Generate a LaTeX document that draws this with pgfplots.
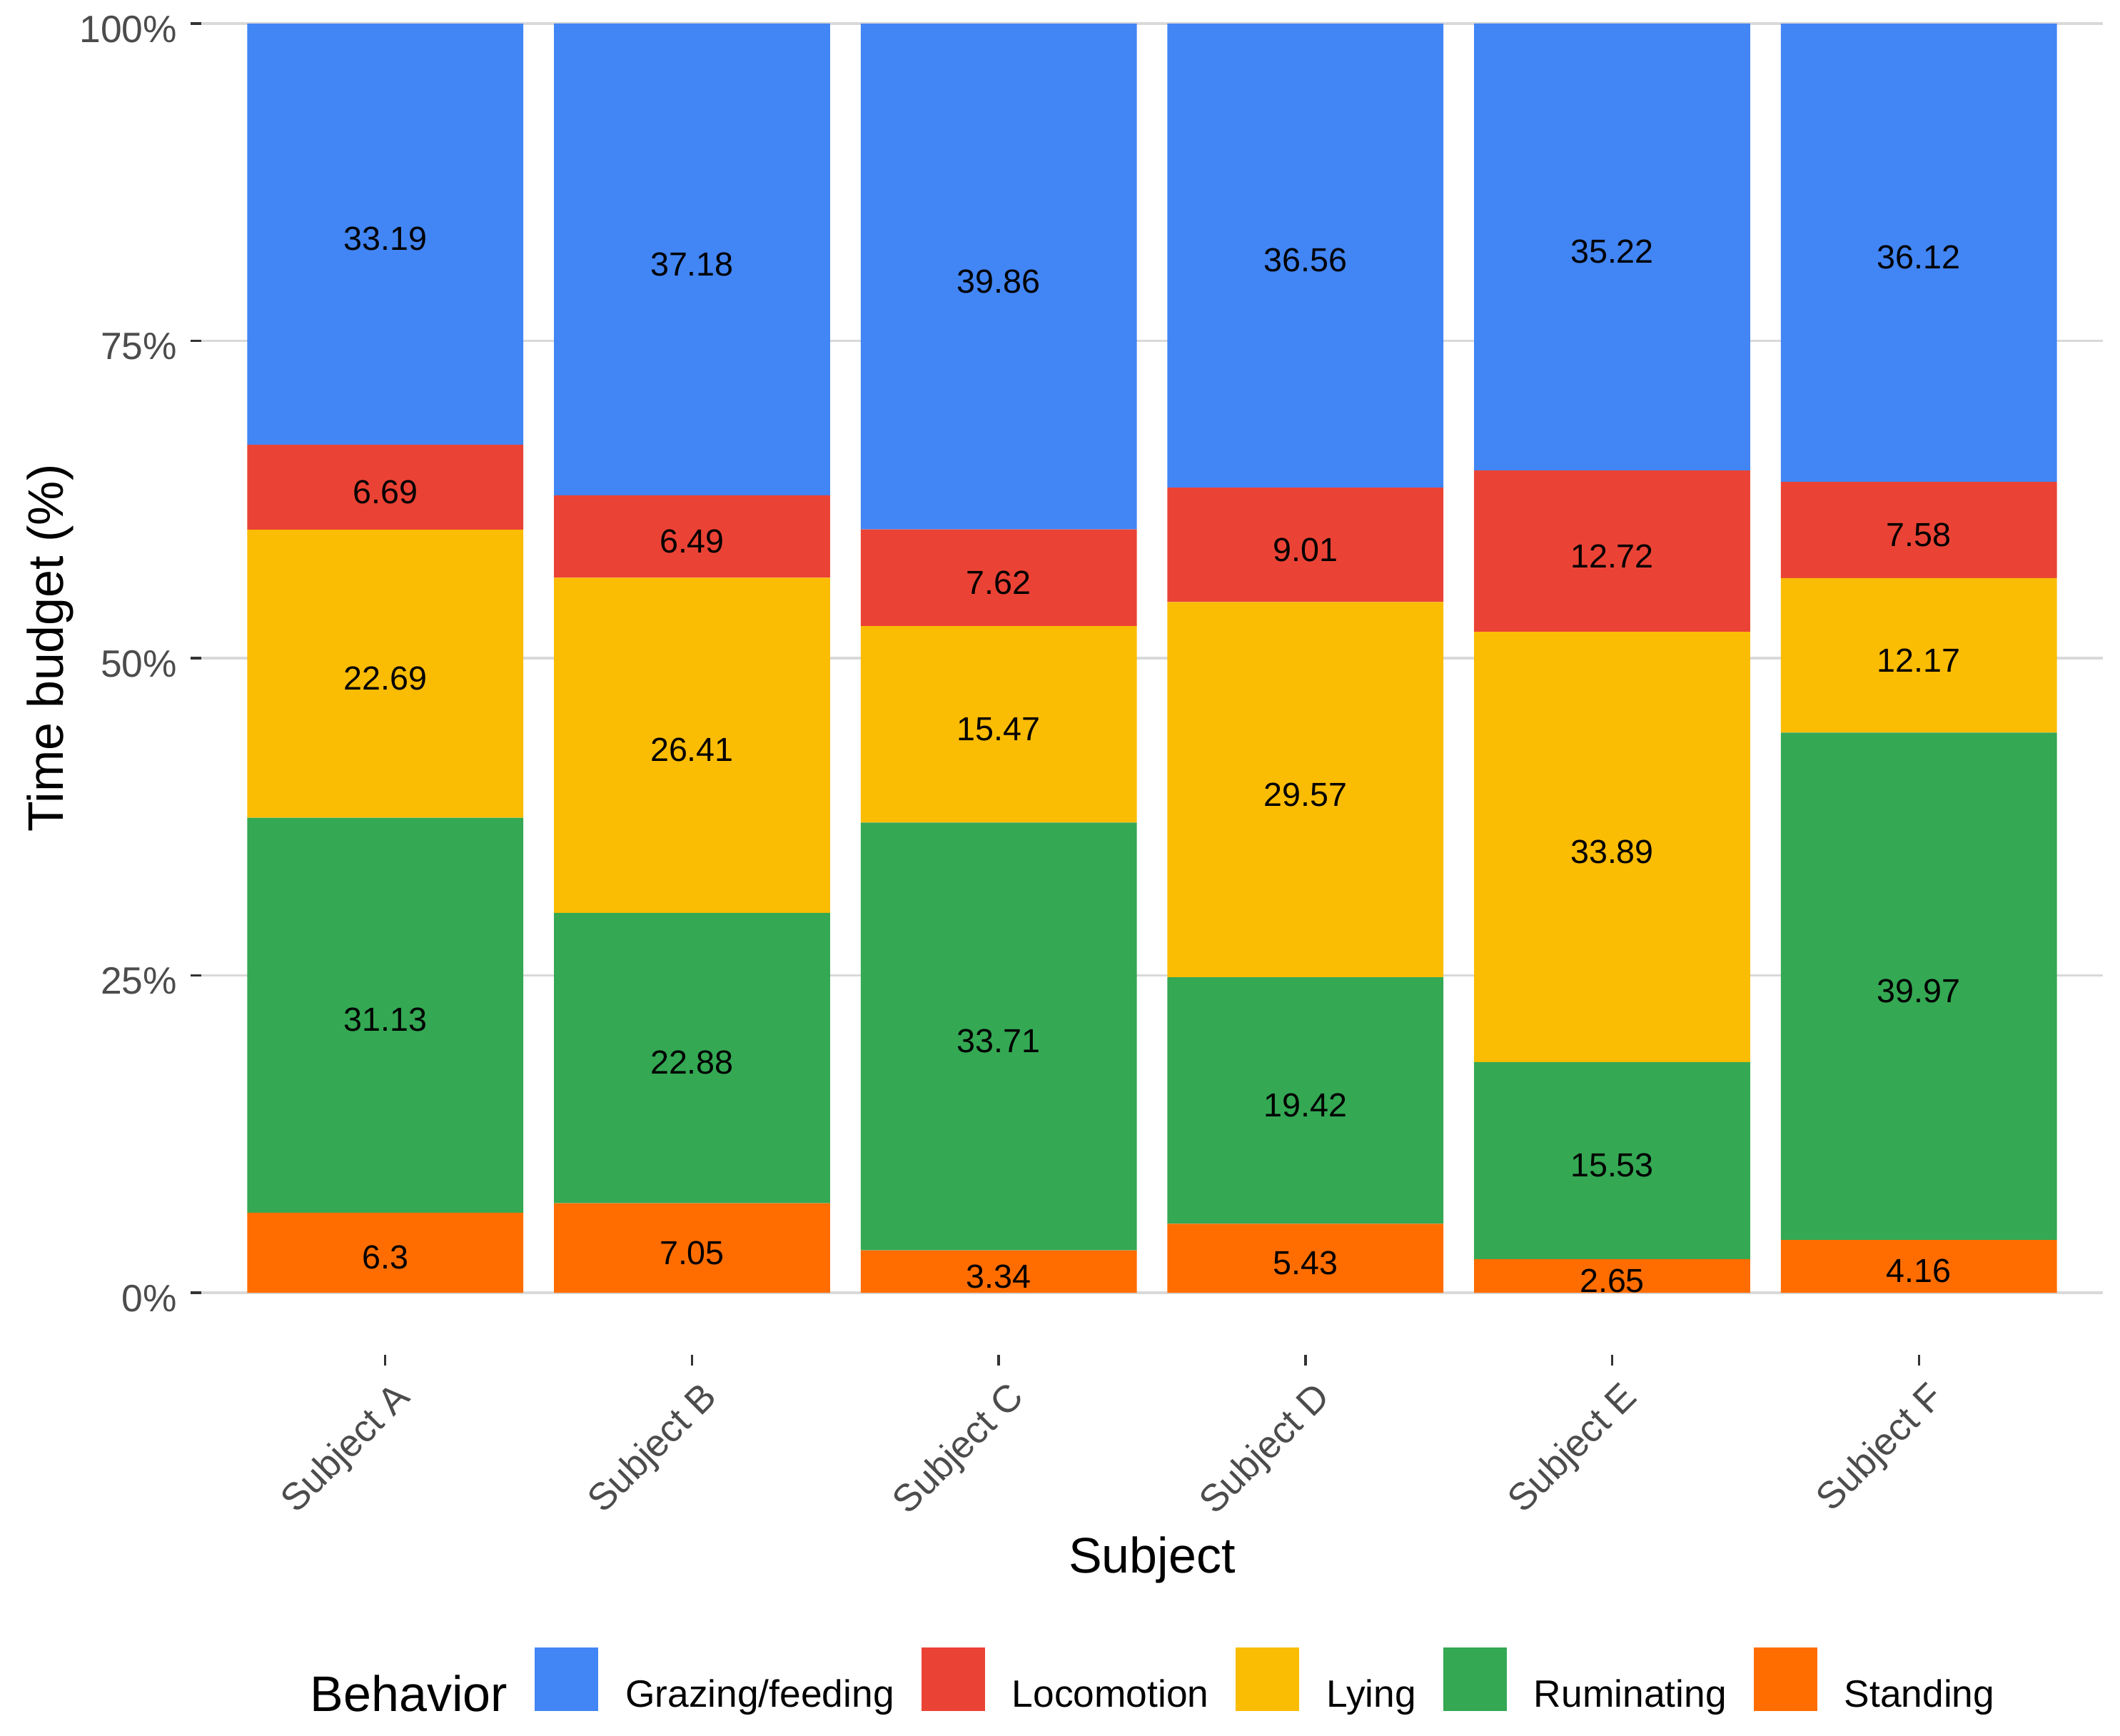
\documentclass[border=0pt]{standalone}
\usepackage{pgfplots}
\pgfplotsset{compat=1.18}
\usepackage{pgfplotstable}
\usepackage{fontspec}
\setmainfont{Liberation Sans}

\definecolor{cgraz}{HTML}{4285F4}
\definecolor{cloco}{HTML}{EA4335}
\definecolor{clying}{HTML}{FBBC04}
\definecolor{crum}{HTML}{34A853}
\definecolor{cstand}{HTML}{FF6D01}

% time budget per subject, percent of observation time
\pgfplotstableread{
x Standing Ruminating Lying Locomotion Grazing
0 6.3  31.13 22.69 6.69  33.19
1 7.05 22.88 26.41 6.49  37.18
2 3.34 33.71 15.47 7.62  39.86
3 5.43 19.42 29.57 9.01  36.56
4 2.65 15.53 33.89 12.72 35.22
5 4.16 39.97 12.17 7.58  36.12
}\budget

\pgfplotsset{
  keybox/.style={legend image code/.code={\fill[##1, draw=none] (0pt,-2.95pt) rectangle (13.35pt,10.4pt);}},
}

\begin{document}
\begin{tikzpicture}
\begin{axis}[
  width=399.6pt, height=266.7pt, scale only axis,
  ybar stacked, bar width=0.9,
  xmin=-0.6, xmax=5.6, ymin=0, ymax=100,
  clip=false,
  xtick={0,...,5},
  xticklabels={Subject A,Subject B,Subject C,Subject D,Subject E,Subject F},
  ytick={0,25,50,75,100},
  yticklabels={0\%,25\%,50\%,75\%,100\%},
  tick pos=left, tick align=outside, major tick length=2.3pt,
  tick style={draw=black!80, line width=0.5pt},
  xtick style={yshift=-13.05pt},
  axis line style={draw=none},
  ymajorgrids, xmajorgrids=false,
  grid style={draw=black!15, line width=0.5pt},
  ticklabel style={font=\fontsize{8}{9.6}\selectfont, text=black!70},
  yticklabel style={anchor=east, inner sep=0pt, xshift=-2.6pt, yshift=-1.2pt},
  xticklabel style={inner sep=0pt, xshift=1.5pt, yshift=-15.7pt, rotate=45, anchor=north east},
  xlabel=Subject, ylabel={Time budget (\%)},
  label style={font=\fontsize{10.5}{12.6}\selectfont},
  xlabel style={at={(axis description cs:0.5,-0.2205)}, anchor=base},
  ylabel style={at={(axis description cs:-0.0728,0.508)}, anchor=base},
  % each segment is labelled with its own value, centred in the segment
  point meta=explicit symbolic,
  nodes near coords={\pgfplotspointmeta},
  nodes near coords align=center,
  every node near coord/.append style={font=\fontsize{7}{8.4}\selectfont, text=black,
    anchor=center, yshift=-1pt},
  legend columns=-1,
  legend style={at={(axis description cs:0.4931,-0.3077)}, anchor=center,
    draw=none, fill=none, inner sep=0pt,
    nodes={inner sep=0pt, font=\fontsize{8}{9.6}\selectfont},
    /tikz/every odd column/.append style={column sep=5.7pt},
    /tikz/every even column/.append style={column sep=5.7pt}},
]
\addplot[fill=cstand, draw=none, forget plot]
  table[x=x, y=Standing, meta=Standing]{\budget};
\addplot[fill=crum, draw=none, forget plot]
  table[x=x, y=Ruminating, meta=Ruminating]{\budget};
\addplot[fill=clying, draw=none, forget plot]
  table[x=x, y=Lying, meta=Lying]{\budget};
\addplot[fill=cloco, draw=none, forget plot]
  table[x=x, y=Locomotion, meta=Locomotion]{\budget};
\addplot[fill=cgraz, draw=none, forget plot]
  table[x=x, y=Grazing, meta=Grazing]{\budget};

\addlegendimage{empty legend}
\addlegendentry{\fontsize{10.5}{12.6}\selectfont Behavior}
\addlegendimage{keybox, fill=cgraz}
\addlegendentry{Grazing/feeding}
\addlegendimage{keybox, fill=cloco}
\addlegendentry{Locomotion}
\addlegendimage{keybox, fill=clying}
\addlegendentry{Lying}
\addlegendimage{keybox, fill=crum}
\addlegendentry{Ruminating}
\addlegendimage{keybox, fill=cstand}
\addlegendentry{Standing}
\end{axis}
\path ([xshift=-42.3pt,yshift=-93.15pt]current axis.south west)
  rectangle ([xshift=403.2pt,yshift=271.65pt]current axis.south west);
\end{tikzpicture}
\end{document}
